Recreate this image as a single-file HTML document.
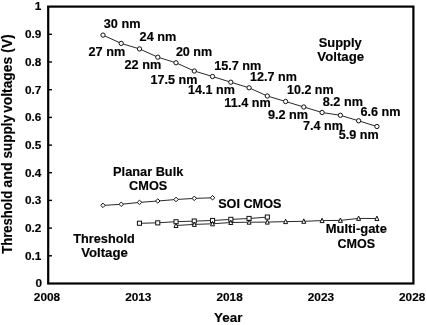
<!DOCTYPE html>
<html><head><meta charset="utf-8"><title>Threshold and supply voltages</title>
<style>
html,body{margin:0;padding:0;background:#fff;}
svg{display:block;}
text{font-family:"Liberation Sans",Arial,Helvetica,sans-serif;font-weight:bold;fill:#000;stroke:#000;stroke-width:0.15px;}
</style></head><body>
<svg width="427" height="325" viewBox="0 0 427 325">
<rect width="427" height="325" fill="#fff"/>
<polyline fill="none" stroke="#111" stroke-width="0.9" points="103.0,35.1 121.2,43.4 139.5,48.9 157.8,57.2 176.0,62.8 194.3,71.0 212.5,76.5 230.8,82.2 249.1,87.8 267.3,96.0 285.6,101.5 303.8,107.0 322.1,112.5 340.4,115.3 358.6,120.8 376.9,126.5"/>
<circle cx="103.0" cy="35.1" r="2.15" fill="#fff" stroke="#111" stroke-width="1.00"/>
<circle cx="121.2" cy="43.4" r="2.15" fill="#fff" stroke="#111" stroke-width="1.00"/>
<circle cx="139.5" cy="48.9" r="2.15" fill="#fff" stroke="#111" stroke-width="1.00"/>
<circle cx="157.8" cy="57.2" r="2.15" fill="#fff" stroke="#111" stroke-width="1.00"/>
<circle cx="176.0" cy="62.8" r="2.15" fill="#fff" stroke="#111" stroke-width="1.00"/>
<circle cx="194.3" cy="71.0" r="2.15" fill="#fff" stroke="#111" stroke-width="1.00"/>
<circle cx="212.5" cy="76.5" r="2.15" fill="#fff" stroke="#111" stroke-width="1.00"/>
<circle cx="230.8" cy="82.2" r="2.15" fill="#fff" stroke="#111" stroke-width="1.00"/>
<circle cx="249.1" cy="87.8" r="2.15" fill="#fff" stroke="#111" stroke-width="1.00"/>
<circle cx="267.3" cy="96.0" r="2.15" fill="#fff" stroke="#111" stroke-width="1.00"/>
<circle cx="285.6" cy="101.5" r="2.15" fill="#fff" stroke="#111" stroke-width="1.00"/>
<circle cx="303.8" cy="107.0" r="2.15" fill="#fff" stroke="#111" stroke-width="1.00"/>
<circle cx="322.1" cy="112.5" r="2.15" fill="#fff" stroke="#111" stroke-width="1.00"/>
<circle cx="340.4" cy="115.3" r="2.15" fill="#fff" stroke="#111" stroke-width="1.00"/>
<circle cx="358.6" cy="120.8" r="2.15" fill="#fff" stroke="#111" stroke-width="1.00"/>
<circle cx="376.9" cy="126.5" r="2.15" fill="#fff" stroke="#111" stroke-width="1.00"/>
<polyline fill="none" stroke="#111" stroke-width="0.9" points="103.0,205.4 121.2,204.3 139.5,202.4 157.8,201.0 176.0,199.5 194.3,198.4 212.5,197.8"/>
<path d="M103.0 203.1L105.2 205.4L103.0 207.6L100.7 205.4Z" fill="#fff" stroke="#111" stroke-width="1.00"/>
<path d="M121.2 202.0L123.5 204.3L121.2 206.5L119.0 204.3Z" fill="#fff" stroke="#111" stroke-width="1.00"/>
<path d="M139.5 200.1L141.8 202.4L139.5 204.6L137.2 202.4Z" fill="#fff" stroke="#111" stroke-width="1.00"/>
<path d="M157.8 198.8L160.0 201.0L157.8 203.2L155.5 201.0Z" fill="#fff" stroke="#111" stroke-width="1.00"/>
<path d="M176.0 197.2L178.3 199.5L176.0 201.8L173.8 199.5Z" fill="#fff" stroke="#111" stroke-width="1.00"/>
<path d="M194.3 196.1L196.5 198.4L194.3 200.6L192.0 198.4Z" fill="#fff" stroke="#111" stroke-width="1.00"/>
<path d="M212.5 195.5L214.8 197.8L212.5 200.0L210.3 197.8Z" fill="#fff" stroke="#111" stroke-width="1.00"/>
<polyline fill="none" stroke="#111" stroke-width="0.9" points="139.5,223.3 157.8,222.8 176.0,221.7 194.3,221.1 212.5,220.5 230.8,219.4 249.1,218.5 267.3,217.1"/>
<rect x="137.4" y="221.2" width="4.1" height="4.1" fill="#fff" stroke="#111" stroke-width="1.00"/>
<rect x="155.7" y="220.8" width="4.1" height="4.1" fill="#fff" stroke="#111" stroke-width="1.00"/>
<rect x="174.0" y="219.7" width="4.1" height="4.1" fill="#fff" stroke="#111" stroke-width="1.00"/>
<rect x="192.2" y="219.0" width="4.1" height="4.1" fill="#fff" stroke="#111" stroke-width="1.00"/>
<rect x="210.5" y="218.4" width="4.1" height="4.1" fill="#fff" stroke="#111" stroke-width="1.00"/>
<rect x="228.8" y="217.3" width="4.1" height="4.1" fill="#fff" stroke="#111" stroke-width="1.00"/>
<rect x="247.0" y="216.4" width="4.1" height="4.1" fill="#fff" stroke="#111" stroke-width="1.00"/>
<rect x="265.3" y="215.0" width="4.1" height="4.1" fill="#fff" stroke="#111" stroke-width="1.00"/>
<polyline fill="none" stroke="#111" stroke-width="0.9" points="176.0,225.5 194.3,224.4 212.5,223.8 230.8,222.5 249.1,222.2 267.3,222.1 285.6,221.6 303.8,221.3 322.1,220.6 340.4,220.4 358.6,218.4 376.9,218.5"/>
<path d="M176.0 223.1L178.0 227.5L174.0 227.5Z" fill="#fff" stroke="#111" stroke-width="1.00"/>
<path d="M194.3 222.0L196.3 226.4L192.3 226.4Z" fill="#fff" stroke="#111" stroke-width="1.00"/>
<path d="M212.5 221.4L214.5 225.8L210.5 225.8Z" fill="#fff" stroke="#111" stroke-width="1.00"/>
<path d="M230.8 220.1L232.8 224.5L228.8 224.5Z" fill="#fff" stroke="#111" stroke-width="1.00"/>
<path d="M249.1 219.8L251.1 224.2L247.1 224.2Z" fill="#fff" stroke="#111" stroke-width="1.00"/>
<path d="M267.3 219.7L269.3 224.1L265.3 224.1Z" fill="#fff" stroke="#111" stroke-width="1.00"/>
<path d="M285.6 219.2L287.6 223.6L283.6 223.6Z" fill="#fff" stroke="#111" stroke-width="1.00"/>
<path d="M303.8 218.9L305.8 223.3L301.8 223.3Z" fill="#fff" stroke="#111" stroke-width="1.00"/>
<path d="M322.1 218.2L324.1 222.6L320.1 222.6Z" fill="#fff" stroke="#111" stroke-width="1.00"/>
<path d="M340.4 218.0L342.4 222.4L338.4 222.4Z" fill="#fff" stroke="#111" stroke-width="1.00"/>
<path d="M358.6 216.0L360.6 220.4L356.6 220.4Z" fill="#fff" stroke="#111" stroke-width="1.00"/>
<path d="M376.9 216.1L378.9 220.5L374.9 220.5Z" fill="#fff" stroke="#111" stroke-width="1.00"/>
<rect x="48.2" y="6.6" width="365.2" height="276.9" fill="none" stroke="#000" stroke-width="2.2"/>
<line x1="48.2" y1="255.8" x2="52.0" y2="255.8" stroke="#000" stroke-width="1.4"/>
<line x1="48.2" y1="228.1" x2="52.0" y2="228.1" stroke="#000" stroke-width="1.4"/>
<line x1="48.2" y1="200.4" x2="52.0" y2="200.4" stroke="#000" stroke-width="1.4"/>
<line x1="48.2" y1="172.7" x2="52.0" y2="172.7" stroke="#000" stroke-width="1.4"/>
<line x1="48.2" y1="145.1" x2="52.0" y2="145.1" stroke="#000" stroke-width="1.4"/>
<line x1="48.2" y1="117.4" x2="52.0" y2="117.4" stroke="#000" stroke-width="1.4"/>
<line x1="48.2" y1="89.7" x2="52.0" y2="89.7" stroke="#000" stroke-width="1.4"/>
<line x1="48.2" y1="62.0" x2="52.0" y2="62.0" stroke="#000" stroke-width="1.4"/>
<line x1="48.2" y1="34.3" x2="52.0" y2="34.3" stroke="#000" stroke-width="1.4"/>
<text x="42.1" y="287.3" text-anchor="end" font-size="11.8">0</text>
<text x="41.4" y="259.6" text-anchor="end" font-size="11.8">0.1</text>
<text x="41.4" y="231.9" text-anchor="end" font-size="11.8">0.2</text>
<text x="41.4" y="204.2" text-anchor="end" font-size="11.8">0.3</text>
<text x="41.4" y="176.5" text-anchor="end" font-size="11.8">0.4</text>
<text x="41.4" y="148.9" text-anchor="end" font-size="11.8">0.5</text>
<text x="41.4" y="121.2" text-anchor="end" font-size="11.8">0.6</text>
<text x="41.4" y="93.5" text-anchor="end" font-size="11.8">0.7</text>
<text x="41.4" y="65.8" text-anchor="end" font-size="11.8">0.8</text>
<text x="41.4" y="38.1" text-anchor="end" font-size="11.8">0.9</text>
<text x="41.4" y="10.4" text-anchor="end" font-size="11.8">1</text>
<text x="47.0" y="300.6" text-anchor="middle" font-size="11.7" textLength="26.3" lengthAdjust="spacingAndGlyphs">2008</text>
<text x="138.3" y="300.6" text-anchor="middle" font-size="11.7" textLength="26.3" lengthAdjust="spacingAndGlyphs">2013</text>
<text x="229.6" y="300.6" text-anchor="middle" font-size="11.7" textLength="26.3" lengthAdjust="spacingAndGlyphs">2018</text>
<text x="320.9" y="300.6" text-anchor="middle" font-size="11.7" textLength="26.3" lengthAdjust="spacingAndGlyphs">2023</text>
<text x="412.2" y="300.6" text-anchor="middle" font-size="11.7" textLength="26.3" lengthAdjust="spacingAndGlyphs">2028</text>
<text x="228.3" y="321.6" text-anchor="middle" font-size="12.8" textLength="28.4" lengthAdjust="spacingAndGlyphs">Year</text>
<text transform="translate(12.2 0) rotate(-90)" y="0" font-size="13.9"><tspan x="-253.80" textLength="63.10" lengthAdjust="spacingAndGlyphs">Threshold</tspan> <tspan x="-187.80" textLength="25.50" lengthAdjust="spacingAndGlyphs">and</tspan> <tspan x="-158.40" textLength="43.30" lengthAdjust="spacingAndGlyphs">supply</tspan> <tspan x="-112.80" textLength="55.90" lengthAdjust="spacingAndGlyphs">voltages</tspan> <tspan x="-52.70" textLength="18.30" lengthAdjust="spacingAndGlyphs">(V)</tspan></text>
<text x="340.2" y="46.7" text-anchor="middle" font-size="12.4" textLength="43.0" lengthAdjust="spacingAndGlyphs">Supply</text>
<text x="340.7" y="61.2" text-anchor="middle" font-size="12.4" textLength="46.7" lengthAdjust="spacingAndGlyphs">Voltage</text>
<text x="148.2" y="175.9" text-anchor="middle" font-size="12.4" textLength="70.2" lengthAdjust="spacingAndGlyphs">Planar Bulk</text>
<text x="148.2" y="190.0" text-anchor="middle" font-size="12.4" textLength="38.2" lengthAdjust="spacingAndGlyphs">CMOS</text>
<text x="249.8" y="208.1" text-anchor="middle" font-size="12.4" textLength="63.3" lengthAdjust="spacingAndGlyphs">SOI CMOS</text>
<text x="356.3" y="233.1" text-anchor="middle" font-size="12.4" textLength="61.2" lengthAdjust="spacingAndGlyphs">Multi-gate</text>
<text x="356.3" y="247.8" text-anchor="middle" font-size="12.4" textLength="37.6" lengthAdjust="spacingAndGlyphs">CMOS</text>
<text x="104.0" y="243.4" text-anchor="middle" font-size="12.4" textLength="61.4" lengthAdjust="spacingAndGlyphs">Threshold</text>
<text x="104.5" y="256.9" text-anchor="middle" font-size="12.4" textLength="46.7" lengthAdjust="spacingAndGlyphs">Voltage</text>
<text x="103.8" y="27.9" text-anchor="start" font-size="12.2" textLength="36.7" lengthAdjust="spacingAndGlyphs">30 nm</text>
<text x="139.6" y="41.1" text-anchor="start" font-size="12.2" textLength="36.7" lengthAdjust="spacingAndGlyphs">24 nm</text>
<text x="88.5" y="55.9" text-anchor="start" font-size="12.2" textLength="36.7" lengthAdjust="spacingAndGlyphs">27 nm</text>
<text x="124.5" y="69.0" text-anchor="start" font-size="12.2" textLength="36.7" lengthAdjust="spacingAndGlyphs">22 nm</text>
<text x="175.9" y="55.9" text-anchor="start" font-size="12.2" textLength="36.3" lengthAdjust="spacingAndGlyphs">20 nm</text>
<text x="150.6" y="83.6" text-anchor="start" font-size="12.2" textLength="46.9" lengthAdjust="spacingAndGlyphs">17.5 nm</text>
<text x="188.1" y="93.9" text-anchor="start" font-size="12.2" textLength="46.7" lengthAdjust="spacingAndGlyphs">14.1 nm</text>
<text x="214.2" y="69.5" text-anchor="start" font-size="12.2" textLength="47.2" lengthAdjust="spacingAndGlyphs">15.7 nm</text>
<text x="250.1" y="80.7" text-anchor="start" font-size="12.2" textLength="46.7" lengthAdjust="spacingAndGlyphs">12.7 nm</text>
<text x="224.3" y="106.6" text-anchor="start" font-size="12.2" textLength="46.4" lengthAdjust="spacingAndGlyphs">11.4 nm</text>
<text x="267.9" y="118.9" text-anchor="start" font-size="12.2" textLength="40.2" lengthAdjust="spacingAndGlyphs">9.2 nm</text>
<text x="287.1" y="94.0" text-anchor="start" font-size="12.2" textLength="46.4" lengthAdjust="spacingAndGlyphs">10.2 nm</text>
<text x="322.8" y="105.9" text-anchor="start" font-size="12.2" textLength="40.1" lengthAdjust="spacingAndGlyphs">8.2 nm</text>
<text x="303.1" y="129.8" text-anchor="start" font-size="12.2" textLength="39.9" lengthAdjust="spacingAndGlyphs">7.4 nm</text>
<text x="338.7" y="138.7" text-anchor="start" font-size="12.2" textLength="39.9" lengthAdjust="spacingAndGlyphs">5.9 nm</text>
<text x="360.5" y="116.1" text-anchor="start" font-size="12.2" textLength="40.1" lengthAdjust="spacingAndGlyphs">6.6 nm</text>
</svg>
</body></html>
